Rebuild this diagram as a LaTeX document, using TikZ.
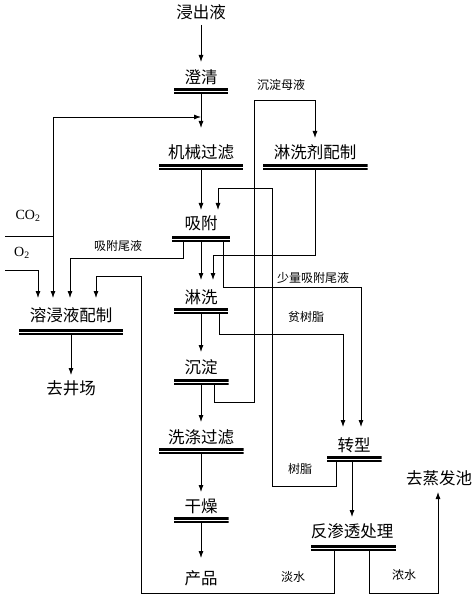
\documentclass[tikz,border=0pt]{standalone}
\usepackage{fontspec}
\newfontfamily\cjk{Noto Sans CJK SC}
\newfontfamily\latinserif{Liberation Serif}
\usetikzlibrary{arrows.meta}
\begin{document}
\begin{tikzpicture}[x=1pt,y=-1pt,
  every node/.style={inner sep=0pt},
  big/.style={font=\cjk\fontsize{16.5}{18}\selectfont},
  small/.style={font=\cjk\fontsize{12}{14}\selectfont},
  gas/.style={font=\latinserif\fontsize{14}{16}\selectfont},
  bar/.style={minimum width=#1, minimum height=5.5pt, inner sep=0pt, outer sep=0pt,
    path picture={
      \fill[black] (path picture bounding box.north west) rectangle ([yshift=-3pt]path picture bounding box.north east);
      \fill[black] ([yshift=1.3pt]path picture bounding box.south west) rectangle (path picture bounding box.south east);}},
  arr/.style={line width=0.8pt,-{Latex[length=7pt,width=5pt]}},
  ln/.style={line width=0.8pt}]
\useasboundingbox (0,0) rectangle (474,601);

% main column
\node[big] (tjc) at (201,12) {浸出液};
\node[big] (tcq) at (201,77) {澄清};
\node[bar=54pt] (bcq) at (201,91) {};
\node[big] (tjx) at (201,152) {机械过滤};
\node[bar=84pt] (bjx) at (201,167) {};
\node[big] (txf) at (201,223) {吸附};
\node[bar=58pt] (bxf) at (201,239) {};
\node[big] (tlx) at (201,297) {淋洗};
\node[bar=54pt] (blx) at (201,311) {};
\node[big] (tcd) at (201,367) {沉淀};
\node[bar=55pt] (bcd) at (201,382) {};
\node[big] (txd) at (201,437) {洗涤过滤};
\node[bar=85pt] (bxd) at (201,451) {};
\node[big] (tgz) at (201,506) {干燥};
\node[bar=55pt] (bgz) at (201,520) {};
\node[big] (tcp) at (201,578) {产品};

% right side
\node[big] (tlxj) at (315,152) {淋洗剂配制};
\node[bar=105pt] (blxj) at (315,167) {};
\node[big] (tzx) at (354,445) {转型};
\node[bar=55pt] (bzx) at (354,459) {};
\node[big] (tfs) at (352,531) {反渗透处理};
\node[bar=85pt] (bfs) at (353.5,548) {};
\node[big] (tzf) at (439,478) {去蒸发池};

% left side
\node[big] (trj) at (71,315) {溶浸液配制};
\node[bar=104pt] (brj) at (71,332) {};
\node[big] (tqj) at (71,388) {去井场};
\node[gas] (tco) at (28,216) {CO\textsubscript{2}};
\node[gas] (to) at (22,253) {O\textsubscript{2}};

% small labels
\node[small] (lcm) at (281,85) {沉淀母液};
\node[small] (lxw) at (118,246) {吸附尾液};
\node[small] (lsl) at (313,278) {少量吸附尾液};
\node[small] (lps) at (306,317) {贫树脂};
\node[small] (lsz) at (300,469) {树脂};
\node[small] (lds) at (293,577) {淡水};
\node[small] (lns) at (404,575) {浓水};

\coordinate (jn) at (53,236);
\coordinate (cos) at (5,236);
\coordinate (os) at (5,270);

% main column arrows
\draw[arr] ([yshift=-13pt]tjc.center) -- ([yshift=15pt]tcq.center);
\draw[arr] (bcq.south) -- ([yshift=24pt]tjx.center);
\draw[arr] (bjx.south) -- ([yshift=13pt]txf.center);
\draw[arr] (bxf.south) -- ([yshift=17pt]tlx.center);
\draw[arr] (blx.south) -- ([yshift=15pt]tcd.center);
\draw[arr] (bcd.south) -- ([yshift=15pt]txd.center);
\draw[arr] (bxd.south) -- ([yshift=14pt]tgz.center);
\draw[arr] (bgz.south) -- ([yshift=20pt]tcp.center);

% left loop with CO2 and O2
\draw[ln] (cos) -- (jn);
\draw[arr] (jn) |- ([yshift=-23.25pt]bcq.south);
\draw[arr] (jn) -- ([xshift=-18pt,yshift=17pt]trj.center);
\draw[arr] (os) -| ([xshift=-33pt,yshift=17pt]trj.center);
\draw[arr] ([xshift=-18pt]bxf.south) |- (70,258) -- ([xshift=-1pt,yshift=17pt]trj.center);
\draw[arr] (brj.south) -- ([yshift=13pt]tqj.center);

% fresh water return
\draw[arr] ([xshift=-19.5pt]bfs.south) |- (141,593) |- (96,276) -- ([xshift=25pt,yshift=17pt]trj.center);

% resin return
\draw[arr] ([xshift=-18pt]bzx.south) |- (272,486) |- (218,188) -- ([xshift=17pt,yshift=13pt]txf.center);

% precipitation mother liquor
\draw[arr] ([xshift=13pt]bcd.south) |- (254,402) |- (315,100) -- ([yshift=14pt]tlxj.center);

% eluent to elution
\draw[arr] (blxj.south) |- (213,255) -- ([xshift=12pt,yshift=17pt]tlx.center);

% small amount of tail liquor
\draw[arr] ([xshift=22pt]bxf.south) |- (361,287) -- ([xshift=7pt,yshift=18pt]tzx.center);

% lean resin
\draw[arr] ([xshift=18pt]blx.south) |- (343,334) -- ([xshift=-11pt,yshift=18pt]tzx.center);

% conversion to RO
\draw[arr] ([xshift=-2pt]bzx.south) -- ([yshift=14pt]tfs.center);

% concentrate to evaporation pond
\draw[arr] ([xshift=15.5pt]bfs.south) |- (438,593) -- ([xshift=-1pt,yshift=-14pt]tzf.center);
\end{tikzpicture}
\end{document}
